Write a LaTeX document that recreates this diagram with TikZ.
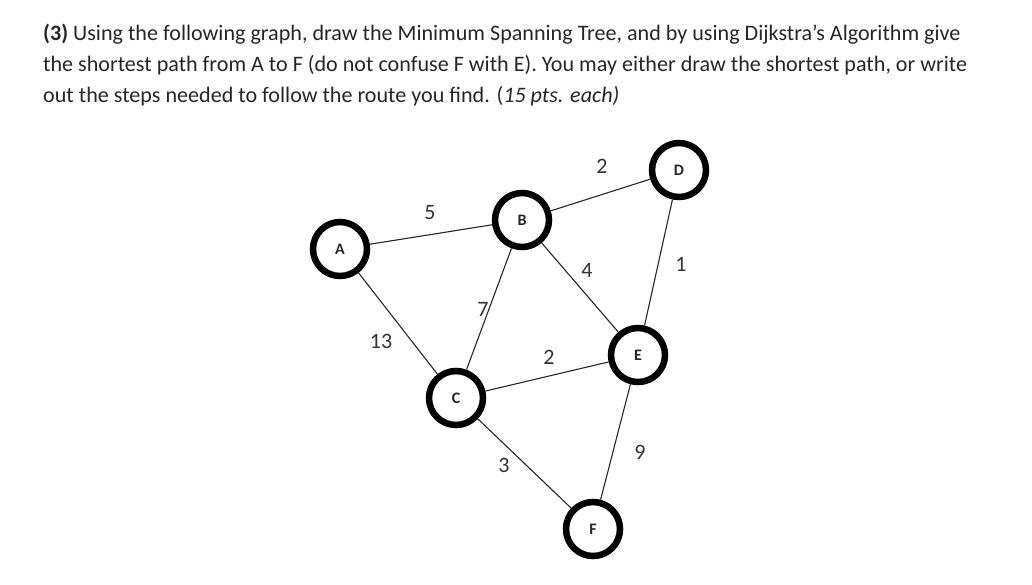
\documentclass[tikz,border=0pt]{standalone}
\usepackage{fontspec}
\setmainfont{Carlito}
\begin{document}
\begin{tikzpicture}[x=1pt,y=-1pt,
  vert/.style={circle,draw=black,line width=6.5pt,fill=white,minimum size=54pt,inner sep=0pt,font=\fontsize{16}{16}\selectfont\bfseries,text=black!85},
  edge/.style={line width=1.1pt,black!85},
  wt/.style={font=\fontsize{22}{22}\selectfont,text=black!80},
  hl/.style={anchor=base west,inner sep=0pt,font=\fontsize{22.1}{24}\selectfont,text=black!85}]
\useasboundingbox (0,0) rectangle (1032,584);
\node[hl] (l1) at (43,40) {\textbf{(3)} Using the following graph, draw the Minimum Spanning Tree, and by using Dijkstra’s Algorithm give};
\node[hl] (l2) at (43,71) {the shortest path from A to F (do not confuse F with E). You may either draw the shortest path, or write};
\node[hl] (l3) at (43,102) {out the steps needed to follow the route you find. (\textit{15 pts. each)}};
\node[vert] (A) at (340,249) {A};
\node[vert] (B) at (522,220) {B};
\node[vert] (C) at (456,398) {C};
\node[vert] (D) at (679,170) {D};
\node[vert] (E) at (638,355) {E};
\node[vert] (F) at (593,529) {F};
\draw[edge] (A) -- (B);
\draw[edge] (A) -- (C);
\draw[edge] (B) -- (D);
\draw[edge] (B) -- (C);
\draw[edge] (B) -- (E);
\draw[edge] (D) -- (E);
\draw[edge] (C) -- (E);
\draw[edge] (C) -- (F);
\draw[edge] (E) -- (F);
\node[wt] (w5) at (430,213) {5};
\node[wt] (w2a) at (602,166) {2};
\node[wt] (w4) at (587,270) {4};
\node[wt] (w1) at (681,264) {1};
\node[wt] (w7) at (483,309) {7};
\node[wt] (w13) at (381,341) {13};
\node[wt] (w2b) at (549,357) {2};
\node[wt] (w9) at (640,452) {9};
\node[wt] (w3) at (504,465) {3};
\end{tikzpicture}
\end{document}
